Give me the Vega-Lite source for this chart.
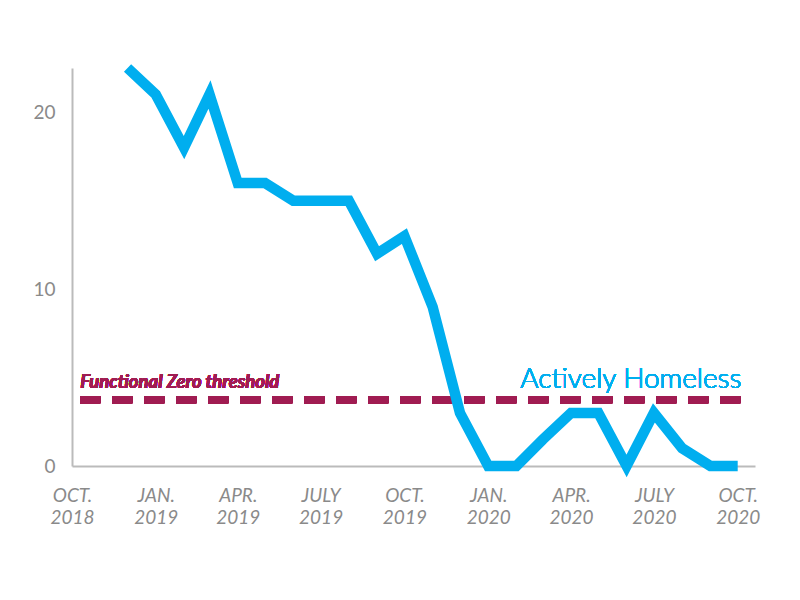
{
  "$schema": "https://vega.github.io/schema/vega-lite/v6.json",
  "autosize": "none",
  "width": 683,
  "height": 398,
  "padding": {"left": 72, "top": 68, "right": 45, "bottom": 134},
  "background": "white",
  "config": {"view": {"stroke": null}, "font": "Lato"},
  "data": {"values": [
    {"date": "2018/12/01", "count": 22.5},
    {"date": "2019/01/01", "count": 21},
    {"date": "2019/02/01", "count": 18},
    {"date": "2019/03/01", "count": 21},
    {"date": "2019/04/01", "count": 16},
    {"date": "2019/05/01", "count": 16},
    {"date": "2019/06/01", "count": 15},
    {"date": "2019/07/01", "count": 15},
    {"date": "2019/08/01", "count": 15},
    {"date": "2019/09/01", "count": 12},
    {"date": "2019/10/01", "count": 13},
    {"date": "2019/11/01", "count": 9},
    {"date": "2019/12/01", "count": 3},
    {"date": "2020/01/01", "count": 0},
    {"date": "2020/02/01", "count": 0},
    {"date": "2020/03/01", "count": 1.5},
    {"date": "2020/04/01", "count": 3},
    {"date": "2020/05/01", "count": 3},
    {"date": "2020/06/01", "count": 0},
    {"date": "2020/07/01", "count": 3},
    {"date": "2020/08/01", "count": 1},
    {"date": "2020/09/01", "count": 0},
    {"date": "2020/10/01", "count": 0}
  ]},
  "layer": [
    {
      "mark": {"type": "rule", "color": "#a01c52", "strokeWidth": 7, "strokeDash": [20, 12]},
      "encoding": {
        "x": {"datum": {"year": 2018, "month": 10, "date": 10}, "type": "temporal"},
        "x2": {"datum": {"year": 2020, "month": 10, "date": 5}},
        "y": {"datum": 3.75, "type": "quantitative"}
      }
    },
    {
      "mark": {"type": "line", "color": "#00aeef", "strokeWidth": 10.5, "strokeJoin": "miter", "strokeCap": "butt", "clip": false},
      "encoding": {
        "x": {
          "field": "date", "type": "temporal",
          "scale": {"domain": [{"year": 2018, "month": 10, "date": 1}, {"year": 2020, "month": 10, "date": 20}]},
          "axis": {
            "title": null,
            "values": [
              {"year": 2018, "month": 10, "date": 1},
              {"year": 2019, "month": 1, "date": 1},
              {"year": 2019, "month": 4, "date": 1},
              {"year": 2019, "month": 7, "date": 1},
              {"year": 2019, "month": 10, "date": 1},
              {"year": 2020, "month": 1, "date": 1},
              {"year": 2020, "month": 4, "date": 1},
              {"year": 2020, "month": 7, "date": 1},
              {"year": 2020, "month": 10, "date": 1}
            ],
            "labelExpr": "[month(datum.value) == 9 ? 'OCT.' : month(datum.value) == 0 ? 'JAN.' : month(datum.value) == 3 ? 'APR.' : 'JULY', timeFormat(datum.value, '%Y')]",
            "ticks": false,
            "grid": false,
            "domainColor": "#bbbbbb",
            "domainWidth": 2,
            "labelColor": "#8a8a8a",
            "labelFontSize": 19,
            "labelFontStyle": "italic",
            "labelFont": "Lato",
            "labelLineHeight": 22,
            "labelPadding": 20,
            "labelFlush": false,
            "labelOverlap": false
          }
        },
        "y": {
          "field": "count", "type": "quantitative",
          "scale": {"domain": [0, 22.5], "nice": false},
          "axis": {
            "title": null,
            "values": [0, 10, 20],
            "ticks": false,
            "grid": false,
            "domainColor": "#bbbbbb",
            "domainWidth": 2,
            "labelColor": "#8a8a8a",
            "labelFontSize": 19,
            "labelFont": "Lato",
            "labelPadding": 17
          }
        }
      }
    },
    {
      "mark": {"type": "text", "text": "Functional Zero threshold", "fill": "#a01c52", "stroke": null, "font": "Lato", "fontSize": 18.5, "fontWeight": "bold", "fontStyle": "italic", "align": "left", "baseline": "alphabetic", "dy": -12},
      "encoding": {
        "x": {"datum": {"year": 2018, "month": 10, "date": 10}, "type": "temporal"},
        "y": {"datum": 3.75, "type": "quantitative"}
      }
    },
    {
      "mark": {"type": "text", "text": "Actively Homeless", "fill": "#00aeef", "stroke": null, "font": "Lato", "fontSize": 28, "fontWeight": 300, "align": "right", "baseline": "alphabetic", "dy": -12},
      "encoding": {
        "x": {"datum": {"year": 2020, "month": 10, "date": 5}, "type": "temporal"},
        "y": {"datum": 3.75, "type": "quantitative"}
      }
    }
  ]
}
